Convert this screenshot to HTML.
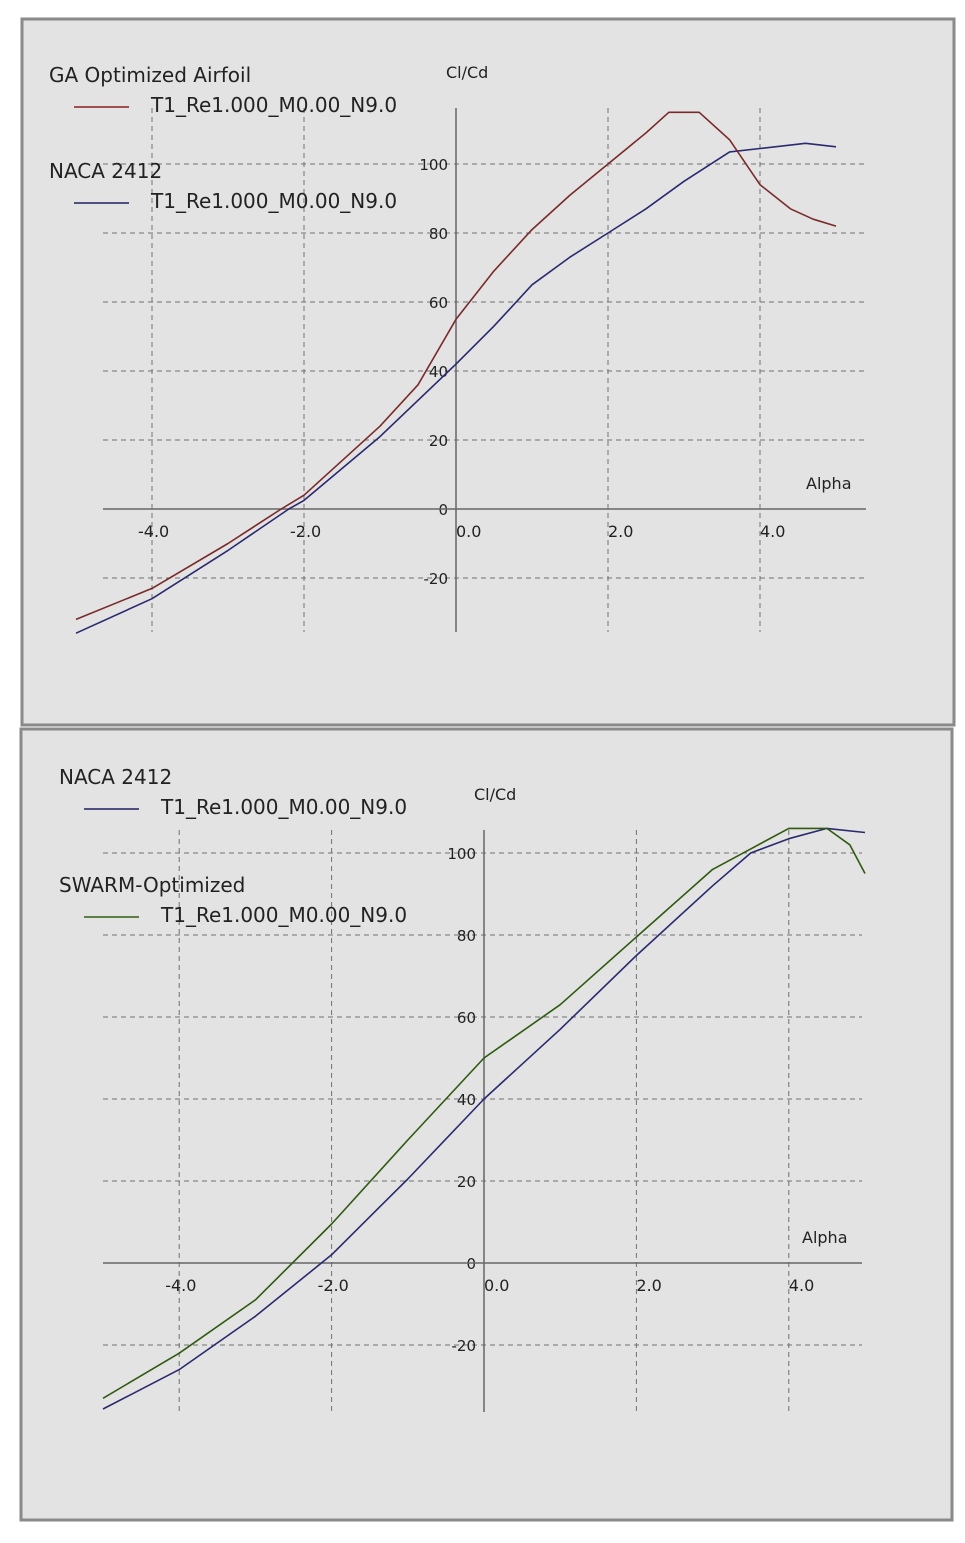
<!DOCTYPE html>
<html><head><meta charset="utf-8"><style>
html,body{margin:0;padding:0;background:#fff;}
svg{display:block;font-family:"DejaVu Sans","Liberation Sans",sans-serif;}
</style></head><body>
<svg id="chart" width="965" height="1543" viewBox="0 0 965 1543" xmlns="http://www.w3.org/2000/svg">
<rect x="0" y="0" width="965" height="1543" fill="#ffffff"/>
<rect x="22" y="19" width="932" height="706" fill="#e3e3e3" stroke="#8a8a8a" stroke-width="3"/>
<rect x="21" y="729" width="931" height="791" fill="#e3e3e3" stroke="#8a8a8a" stroke-width="3"/>
<g id="g1"></g><g id="g2"></g>
</svg>
<script>
// Shared ticks
const xTicks = [-4, -2, 0, 2, 4];
const xTickLabels = ["-4.0", "-2.0", "0.0", "2.0", "4.0"];
const yTicks = [-20, 0, 20, 40, 60, 80, 100];
const yTickLabels = ["-20", "0", "20", "40", "60", "80", "100"];
// Top chart data
const topAlpha = [-5.0, -4, -3, -2.3, -2, -1, -0.5, 0, 0.5, 1, 1.5, 2, 2.5, 2.8, 3.2, 3.6, 4, 4.4, 4.7, 5];
const gaClcd   = [-32, -23, -10, 0, 4, 24, 36, 55, 69, 81, 91, 100, 109, 115, 115, 107, 94, 87, 84, 82];
const topNacaAlpha = [-5.0, -4, -3, -2.2, -2, -1, 0, 0.5, 1, 1.5, 2, 2.5, 3, 3.6, 4, 4.6, 5];
const topNacaClcd  = [-36, -26, -12, 0, 2.5, 21, 42, 53, 65, 73, 80, 87, 95, 103.5, 104.5, 106, 105];
// Bottom chart data
const botNacaAlpha = [-5.0, -4, -3, -2, -1, 0, 1, 2, 3, 3.5, 4, 4.5, 5];
const botNacaClcd  = [-35.6, -26, -13, 2, 20.5, 40, 57, 75, 92, 100, 103.5, 106, 105];
const swarmAlpha = [-5.0, -4, -3, -2, -1, -0.5, 0, 1, 2, 3, 3.5, 4, 4.5, 4.8, 5];
const swarmClcd  = [-33, -22, -9, 9.5, 30, 40, 50, 63, 79.5, 96, 101, 106, 106, 102, 95];

const NS = "http://www.w3.org/2000/svg";
function mk(parent, tag, attrs, text){
  const e = document.createElementNS(NS, tag);
  for (const k in attrs) e.setAttribute(k, attrs[k]);
  if (text !== undefined) e.textContent = text;
  parent.appendChild(e); return e;
}
function drawChart(g, cfg){
  const sx = a => cfg.x0 + a * cfg.kx;
  const sy = v => cfg.y0 - v * cfg.ky;
  // horizontal grid
  yTicks.forEach((v, i) => {
    if (v !== 0) {
      const l = mk(g, "line", {x1: cfg.left, x2: cfg.right, y1: sy(v), y2: sy(v), stroke: "#707070", "stroke-width": 1, "stroke-dasharray": "5,4"});
      
      
    }
    const t = mk(g, "text", {x: cfg.x0 - 8, y: sy(v) + 6, "text-anchor": "end", "font-size": 15, fill: "#222"}, yTickLabels[i]);
    
    
  });
  xTicks.forEach((a, i) => {
    if (a !== 0) {
      const l = mk(g, "line", {x1: sx(a), x2: sx(a), y1: cfg.top, y2: cfg.bottom, stroke: "#707070", "stroke-width": 1, "stroke-dasharray": "5,4"});
      
      
    }
    const t = mk(g, "text", {x: sx(a) - (a < 0 ? 14 : 0), y: cfg.y0 + 28, "font-size": 16, fill: "#222"}, xTickLabels[i]);
    
    
  });
  const xa = mk(g, "line", {x1: cfg.left, x2: cfg.right, y1: cfg.y0, y2: cfg.y0, stroke: "#666", "stroke-width": 1.5});
  
  
  const ya = mk(g, "line", {x1: cfg.x0, x2: cfg.x0, y1: cfg.top, y2: cfg.bottom, stroke: "#666", "stroke-width": 1.5});
  
  
  const yt = mk(g, "text", {x: cfg.x0 - 10, y: cfg.top - 30, "font-size": 16, fill: "#222"}, "Cl/Cd");
  
  
  const xt = mk(g, "text", {x: cfg.right - 60, y: cfg.y0 - 20, "font-size": 16, fill: "#222"}, "Alpha");
  
  
  cfg.series.forEach(s => {
    const pts = s.x.map((a, i) => sx(a).toFixed(1) + "," + sy(s.y[i]).toFixed(1)).join(" ");
    const p = mk(g, "polyline", {points: pts, fill: "none", stroke: s.color, "stroke-width": 1.6, "stroke-linejoin": "round"});
    
    
  });
  cfg.legend.forEach(L => {
    const t1 = mk(g, "text", {x: L.x, y: L.y, "font-size": 20, fill: "#222"}, L.title);
    
    
    const ln = mk(g, "line", {x1: L.x + 25, x2: L.x + 80, y1: L.y + 25, y2: L.y + 25, stroke: L.color, "stroke-width": 1.6});
    
    
    const t2 = mk(g, "text", {x: L.x + 102, y: L.y + 30, "font-size": 20, fill: "#222"}, "T1_Re1.000_M0.00_N9.0");
    
    
  });
}
drawChart(document.getElementById("g1"), {
  x0: 456, y0: 509, kx: 76, ky: 3.45, left: 103, right: 866, top: 108, bottom: 632,
  series: [
    {name: "naca-2412-line", x: topNacaAlpha, y: topNacaClcd, color: "#2a2a70"},
    {name: "ga-optimized-line", x: topAlpha, y: gaClcd, color: "#7a2a2a"}
  ],
  legend: [
    {x: 49, y: 82, title: "GA Optimized Airfoil", color: "#8a2020"},
    {x: 49, y: 178, title: "NACA 2412", color: "#202060"}
  ]
});
drawChart(document.getElementById("g2"), {
  x0: 484, y0: 1263, kx: 76.2, ky: 4.1, left: 103, right: 862, top: 830, bottom: 1412,
  series: [
    {name: "naca-2412-line", x: botNacaAlpha, y: botNacaClcd, color: "#2a2a70"},
    {name: "swarm-optimized-line", x: swarmAlpha, y: swarmClcd, color: "#2f5a10"}
  ],
  legend: [
    {x: 59, y: 784, title: "NACA 2412", color: "#202060"},
    {x: 59, y: 892, title: "SWARM-Optimized", color: "#2f6010"}
  ]
});
</script>
</body></html>
